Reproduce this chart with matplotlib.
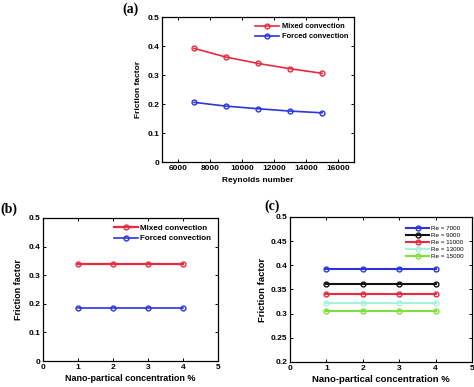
import matplotlib
matplotlib.use('Agg')
import matplotlib.pyplot as plt

plt.rcParams['font.family'] = 'Liberation Sans'
plt.rcParams['font.weight'] = 'bold'

re_vals = [7000, 9000, 11000, 13000, 15000]
mixed_re = [0.392, 0.362, 0.340, 0.322, 0.306]
forced_re = [0.206, 0.193, 0.184, 0.176, 0.170]

conc = [1, 2, 3, 4]
mixed_conc = [0.340, 0.340, 0.340, 0.340]
forced_conc = [0.185, 0.185, 0.185, 0.185]

re_labels = ['Re = 7000', 'Re = 9000', 'Re = 11000', 'Re = 13000', 'Re = 15000']
re_friction = [0.392, 0.362, 0.340, 0.322, 0.306]
re_colors = ['#2a35e0', '#111111', '#ea2a40', '#a8f2dc', '#7ee03a']

red = '#ea2a40'
blue = '#2a35e0'


def style(ax):
    ax.tick_params(direction='in', top=True, right=True, labelsize=6, length=2.5, width=0.7, pad=2)
    for s in ax.spines.values():
        s.set_linewidth(0.9)
    for t in ax.get_xticklabels() + ax.get_yticklabels():
        t.set_fontweight('bold')


fig = plt.figure(figsize=(4.74, 3.87), dpi=100)

# (a)
ax1 = fig.add_axes([0.342, 0.581, 0.405, 0.375])
ax1.plot(re_vals, mixed_re, color=red, marker='o', mfc='none', ms=3.5, lw=1.2, label='Mixed convection')
ax1.plot(re_vals, forced_re, color=blue, marker='o', mfc='none', ms=3.5, lw=1.2, label='Forced convection')
ax1.set_xlim(5000, 17000)
ax1.set_ylim(0, 0.5)
ax1.set_xticks([6000, 8000, 10000, 12000, 14000, 16000])
ax1.set_yticks([0, 0.1, 0.2, 0.3, 0.4, 0.5])
ax1.set_yticklabels(['0', '0.1', '0.2', '0.3', '0.4', '0.5'])
ax1.set_xlabel('Reynolds number', fontsize=6, fontweight='bold', labelpad=4)
ax1.set_ylabel('Friction factor', fontsize=6, fontweight='bold', labelpad=4)
ax1.legend(loc='upper right', frameon=False, prop={'size': 5.4, 'weight': 'bold'},
           handlelength=3.2, borderaxespad=0.4, labelspacing=0.35, handletextpad=0.3)
style(ax1)
fig.text(0.258, 0.975, '(a)', fontsize=10, fontweight='bold', family='Liberation Serif', va='center')

# (b)
ax2 = fig.add_axes([0.0907, 0.067, 0.369, 0.370])
ax2.plot(conc, mixed_conc, color=red, marker='o', mfc='none', ms=3.5, lw=1.6, label='Mixed convection')
ax2.plot(conc, forced_conc, color=blue, marker='o', mfc='none', ms=3.5, lw=1.2, label='Forced convection')
ax2.set_xlim(0, 5)
ax2.set_ylim(0, 0.5)
ax2.set_xticks([0, 1, 2, 3, 4, 5])
ax2.set_yticks([0, 0.1, 0.2, 0.3, 0.4, 0.5])
ax2.set_yticklabels(['0', '0.1', '0.2', '0.3', '0.4', '0.5'])
ax2.set_xlabel('Nano-partical concentration %', fontsize=6.5, fontweight='bold', labelpad=2)
ax2.set_ylabel('Friction factor', fontsize=6.5, fontweight='bold', labelpad=4)
ax2.legend(loc='upper right', frameon=False, prop={'size': 5.8, 'weight': 'bold'},
           handlelength=3.0, borderaxespad=0.4, labelspacing=0.35, handletextpad=0.3)
style(ax2)
fig.text(0.0, 0.458, '(b)', fontsize=10, fontweight='bold', family='Liberation Serif', va='center')

# (c)
ax3 = fig.add_axes([0.612, 0.0646, 0.384, 0.375])
for lab, f, c in zip(re_labels, re_friction, re_colors):
    ax3.plot(conc, [f] * len(conc), color=c, marker='o', mfc='none', ms=3.5, lw=1.5, label=lab)
ax3.set_xlim(0, 5)
ax3.set_ylim(0.2, 0.5)
ax3.set_xticks([0, 1, 2, 3, 4, 5])
ax3.set_yticks([0.2, 0.25, 0.3, 0.35, 0.4, 0.45, 0.5])
ax3.set_yticklabels(['0.2', '0.25', '0.3', '0.35', '0.4', '0.45', '0.5'])
ax3.set_xlabel('Nano-partical concentration %', fontsize=6.8, fontweight='bold', labelpad=2)
ax3.set_ylabel('Friction factor', fontsize=6.8, fontweight='bold', labelpad=3)
ax3.legend(loc='upper right', frameon=False, prop={'size': 4.5, 'weight': 'normal'},
           handlelength=3.8, borderaxespad=1.0, labelspacing=0.25, handletextpad=0.2)
style(ax3)
fig.text(0.558, 0.468, '(c)', fontsize=10, fontweight='bold', family='Liberation Serif', va='center')

fig.savefig('out.png', dpi=100)
